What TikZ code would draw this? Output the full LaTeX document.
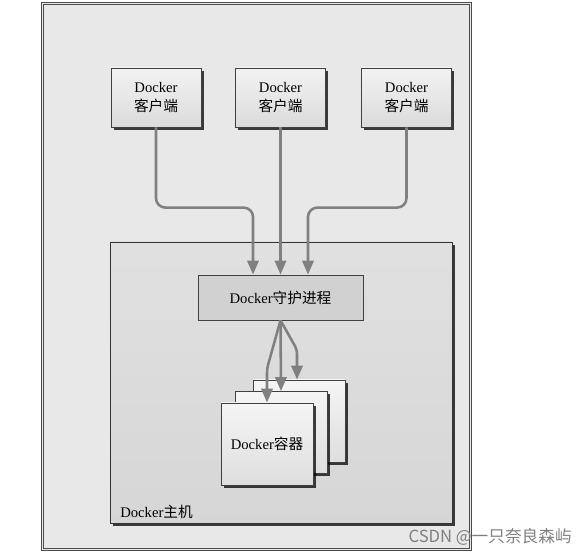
\documentclass[tikz,border=0pt]{standalone}
\usepackage{fontspec}
\setmainfont{Liberation Serif}
\newfontfamily\cjk{Noto Sans CJK SC}
\usetikzlibrary{arrows.meta,
    shadows,
    calc}

\definecolor{framebg}{HTML}{E8E8E8}
\definecolor{hostbg}{HTML}{DADADA}
\definecolor{flowgray}{HTML}{808080}

\tikzset{
    boxshadow/.style={drop shadow={shadow xshift=2pt, shadow yshift=-2pt,
        fill=black, opacity=0.75}},
    client/.style={draw=black!75, line width=0.6pt, boxshadow,
        top color=white!95!black, bottom color=black!14,
        minimum width=67.5pt, minimum height=44.25pt,
        align=center, font=\fontsize{11}{14.25}\selectfont, inner sep=0pt},
    daemon/.style={draw=black!75, line width=0.6pt, fill=black!18,
        minimum width=123.75pt, minimum height=33.75pt,
        font=\fontsize{11}{13}\selectfont, inner sep=0pt},
    container/.style={draw=black!75, line width=0.6pt, boxshadow,
        top color=black!4, bottom color=black!13,
        minimum width=69pt, minimum height=61.5pt,
        font=\fontsize{11}{13}\selectfont, inner sep=0pt},
    flow/.style={draw=flowgray, line width=1.9pt,
        -{Triangle[width=8.5pt,length=10.5pt]}},
}

\begin{document}
\begin{tikzpicture}[x=0.75pt, y=-0.75pt]
    \useasboundingbox (0,0) rectangle (583,555);

    % outer frame
    \draw[fill=framebg, draw=black!70, double=framebg, double distance=1.4pt,
        line width=0.6pt] (42.5,3.5) rectangle (470.5,549.5);

    % host
    \node[draw=black!80, line width=0.7pt, boxshadow,
        top color=black!12, bottom color=black!16,
        minimum width=256.5pt, minimum height=210.75pt, inner sep=0pt]
        (host) at (281,382.5) {};
    \node[anchor=west, font=\fontsize{11}{13}\selectfont, inner sep=0pt]
        (hostlabel) at (120,512) {Docker{\cjk 主机}};

    % clients
    \node[client] (c1) at (156,97.5) {Docker\\{\cjk 客户端}};
    \node[client] (c2) at (280.5,97.5) {Docker\\{\cjk 客户端}};
    \node[client] (c3) at (406.5,97.5) {Docker\\{\cjk 客户端}};

    % daemon
    \node[daemon] (daemon) at (280.5,297.5) {Docker{\cjk 守护进程}};

    % containers
    \node[container] (back) at (299,421) {};
    \node[container] (mid) at (281,432.5) {};
    \node[container] (front) at (267,444) {Docker{\cjk 容器}};

    % clients to daemon
    \draw[flow, rounded corners=7pt] (c1.south) |- ($(daemon.north)+(-27.5,-67)$)
        -- ($(daemon.north)+(-27.5,0)$);
    \draw[flow] (c2.south) -- (daemon.north);
    \draw[flow, rounded corners=7pt] (c3.south) |- ($(daemon.north)+(27.5,-67)$)
        -- ($(daemon.north)+(27.5,0)$);

    % daemon to containers
    \draw[flow, rounded corners=3pt] (daemon.south) -- ($(front.north)+(0,-34)$)
        -- (front.north);
    \draw[flow] (daemon.south) -- (mid.north);
    \draw[flow, rounded corners=3pt] (daemon.south) -- ($(back.north)+(-2,-30)$)
        -- ($(back.north)+(-2,0)$);

    % watermark
    \node[anchor=east, text=black!50, font=\cjk\fontsize{12.5}{14}\selectfont,
        inner sep=0pt] (mark) at (572,537) {CSDN @一只奈良森屿};
\end{tikzpicture}
\end{document}
